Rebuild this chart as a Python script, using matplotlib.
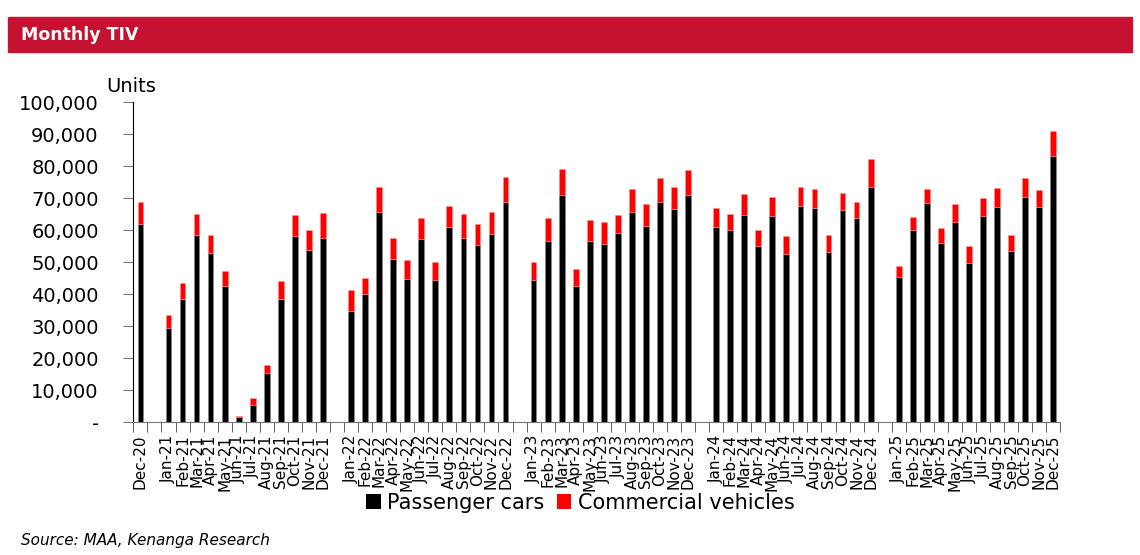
import numpy as np
import matplotlib.pyplot as plt
from matplotlib.patches import Rectangle, Patch

# Month labels: Dec-20, then a blank gap before each year
anios = ['21', '22', '23', '24', '25']
meses = ['Jan', 'Feb', 'Mar', 'Apr', 'May', 'Jun',
         'Jul', 'Aug', 'Sep', 'Oct', 'Nov', 'Dec']
etiquetas = ['Dec-20']
for a in anios:
    etiquetas += [''] + [f'{m}-{a}' for m in meses]

# Passenger cars and total TIV per month (units); None = gap
pasajeros = [62.0,
             None, 29.4, 38.4, 58.4, 52.9, 42.4, 1.5, 5.2, 15.4, 38.3, 58.1, 53.8, 57.6,
             None, 34.6, 40.1, 65.7, 51.0, 44.7, 57.2, 44.5, 60.9, 57.4, 55.3, 58.7, 68.9,
             None, 44.5, 56.5, 71.0, 42.6, 56.5, 55.7, 59.0, 65.7, 61.4, 68.6, 66.6, 71.0,
             None, 60.9, 60.1, 64.8, 55.1, 64.3, 52.6, 67.4, 67.0, 53.1, 66.1, 63.7, 73.5,
             None, 45.2, 60.1, 68.3, 55.9, 62.6, 49.8, 64.5, 67.3, 53.4, 70.4, 67.3, 83.2]
total = [68.8,
         None, 33.3, 43.4, 65.0, 58.3, 47.2, 1.8, 7.4, 17.9, 44.2, 64.7, 60.0, 65.3,
         None, 41.4, 45.0, 73.3, 57.6, 50.6, 63.7, 49.9, 67.6, 65.1, 61.9, 65.7, 76.7,
         None, 50.1, 63.7, 79.0, 47.8, 63.2, 62.6, 64.7, 72.9, 68.2, 76.2, 73.3, 78.6,
         None, 66.9, 65.0, 71.3, 59.9, 70.3, 58.2, 73.5, 72.8, 58.4, 71.7, 68.8, 82.2,
         None, 48.7, 64.0, 72.8, 60.5, 68.1, 54.9, 70.1, 73.2, 58.5, 76.1, 72.6, 90.8]

pc = np.array([np.nan if v is None else v * 1000 for v in pasajeros])
tot = np.array([np.nan if v is None else v * 1000 for v in total])
cv = tot - pc
x = np.arange(len(etiquetas))

fig = plt.figure(figsize=(11.4, 5.55), dpi=100)
ax = fig.add_axes([0.117, 0.2396, 0.813, 0.5766])

ax.bar(x, np.nan_to_num(pc), width=0.41, color='black', edgecolor='#888888', linewidth=0.4)
ax.bar(x, np.nan_to_num(cv), width=0.41, bottom=np.nan_to_num(pc), color='#FF0000',
       edgecolor='#ff9090', linewidth=0.4)

ax.set_xlim(-0.5, len(etiquetas) - 0.5)
ax.set_ylim(0, 100000)
yt = np.arange(0, 100001, 10000)
ax.set_yticks(yt)
ax.set_yticklabels(['-'] + [f'{v:,}' for v in yt[1:]], fontsize=14)
ax.tick_params(axis='y', direction='out', length=7, color='#777777', pad=18)

ax.set_xticks(x)
ax.set_xticklabels(etiquetas, rotation=90, fontsize=11)
ax.set_xticks(np.arange(-0.5, len(etiquetas)), minor=True)
ax.tick_params(axis='x', which='major', length=0, pad=9)
ax.tick_params(axis='x', which='minor', direction='out', length=7, color='#444444')

for s in ['top', 'right']:
    ax.spines[s].set_visible(False)
ax.spines['left'].set_color('black')
ax.spines['bottom'].set_color('#777777')

fig.text(0.093, 0.845, 'Units', fontsize=14, va='center', ha='left')

# Legend
handles = [Patch(facecolor='black', label='Passenger cars'),
           Patch(facecolor='#FF0000', label='Commercial vehicles')]
fig.legend(handles=handles, loc='center', bbox_to_anchor=(0.509, 0.094), ncol=2,
           frameon=False, fontsize=15, handlelength=0.7, handleheight=0.7,
           handletextpad=0.3, columnspacing=0.6)

# Header band
fig.patches.append(Rectangle((0.007, 1 - 52 / 555), 0.986, 35 / 555,
                             transform=fig.transFigure, color='#C41230', zorder=0))
fig.text(0.018, 1 - 35 / 555, 'Monthly TIV', color='white', fontsize=12.5,
         fontweight='bold', va='center', ha='left')

fig.text(0.018, 1 - 541 / 555, 'Source: MAA, Kenanga Research', fontsize=11,
         style='italic', va='center', ha='left')

fig.savefig('out.png', dpi=100)
